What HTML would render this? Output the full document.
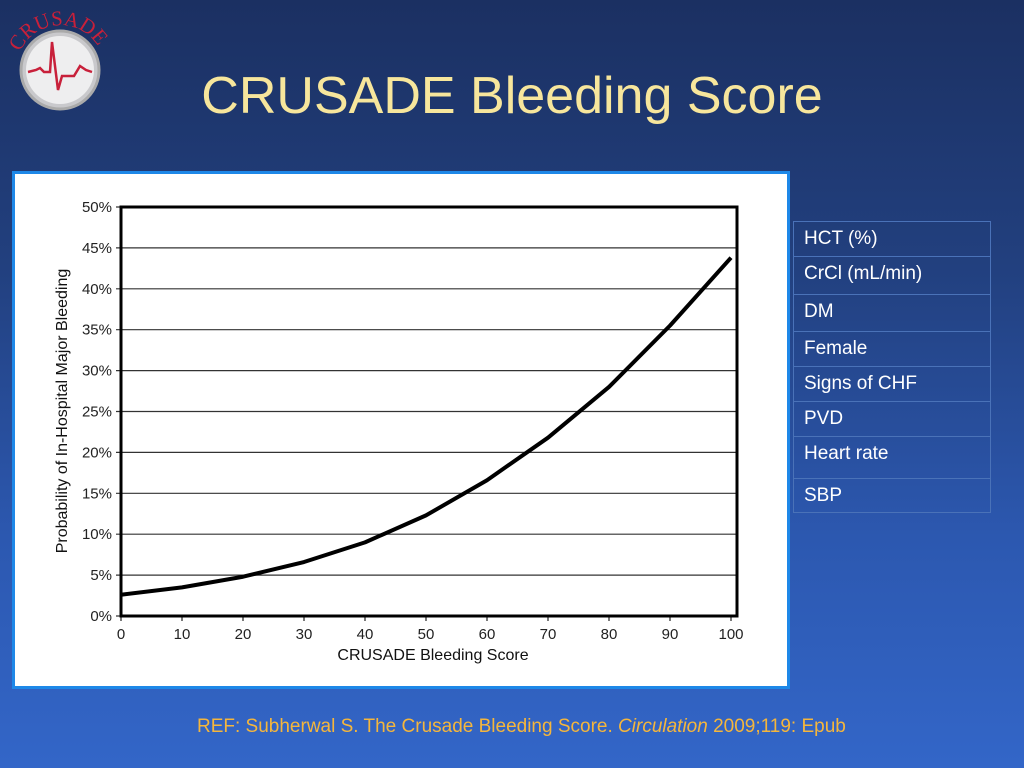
<!DOCTYPE html>
<html><head><meta charset="utf-8"><style>
body{margin:0;width:1024px;height:768px;overflow:hidden;font-family:"Liberation Sans",sans-serif;}
#bg{position:absolute;left:0;top:0;width:1024px;height:768px;background:linear-gradient(#1b3062 0%,#22407f 35%,#2c58b0 70%,#3366c8 100%);}
#title{position:absolute;left:197px;width:630px;top:66px;text-align:center;font-family:"Liberation Sans",sans-serif;font-size:52px;color:#f7e69c;white-space:nowrap;}
#panel{position:absolute;left:12px;top:171px;width:772px;height:512px;background:#fff;border:3px solid #1e88e8;}
table{position:absolute;left:793px;top:221px;border-collapse:collapse;width:198px;}
td{border:1px solid #4a72b8;color:#fff;font-size:19px;padding:6px 0 0 10px;vertical-align:top;box-sizing:border-box;}
#ref{position:absolute;left:197px;width:690px;top:716px;color:#f5b63c;font-size:19px;white-space:nowrap;}
</style></head><body>
<div id="bg"></div>
<svg style="position:absolute;left:0;top:0" width="130" height="120">
<circle cx="60" cy="70" r="39" fill="#c9c9cc" stroke="#aaa" stroke-width="3"/>
<circle cx="60" cy="70" r="34" fill="#eeeeef"/>
<polyline points="28,72 36,70 40,68 44,72 50,72 52,42 58,90 62,76 74,76 80,66 86,70 92,72" fill="none" stroke="#c8203a" stroke-width="2.5"/>
<path id="arc" d="M20,52 A44,44 0 0 1 100,50" fill="none"/>
<text font-family="Liberation Serif,serif" font-size="21" fill="#c8203a"><textPath href="#arc" textLength="96" lengthAdjust="spacingAndGlyphs">CRUSADE</textPath></text>
</svg>
<div id="title">CRUSADE Bleeding Score</div>
<div id="panel"></div>
<svg id="chart" style="position:absolute;left:0;top:0" width="1024" height="768"></svg>
<table>
<tr style="height:35px"><td>HCT (%)</td></tr>
<tr style="height:38px"><td>CrCl (mL/min)</td></tr>
<tr style="height:37px"><td>DM</td></tr>
<tr style="height:35px"><td>Female</td></tr>
<tr style="height:35px"><td>Signs of CHF</td></tr>
<tr style="height:35px"><td>PVD</td></tr>
<tr style="height:42px"><td>Heart rate</td></tr>
<tr style="height:34px"><td>SBP</td></tr>
</table>
<div id="ref">REF: Subherwal S. The Crusade Bleeding Score. <i>Circulation</i> 2009;119: Epub</div>
<script>
const xTicks=[0,10,20,30,40,50,60,70,80,90,100];
const yTicks=[0,5,10,15,20,25,30,35,40,45,50];
const scores=[0,10,20,30,40,50,60,70,80,90,100];
const probs=[2.6,3.5,4.8,6.6,9.0,12.3,16.6,21.8,28.0,35.5,43.8];
const svg=document.getElementById('chart');
const NS='http://www.w3.org/2000/svg';
const X0=121,X1=731,Y0=616,Y1=207;
const sx=v=>X0+(X1-X0)*v/100, sy=v=>Y0-(Y0-Y1)*v/50;
function mk(t,a,txt){const e=document.createElementNS(NS,t);for(const k in a)e.setAttribute(k,a[k]);if(txt!=null)e.textContent=txt;svg.appendChild(e);return e;}
yTicks.forEach(v=>{
 const g=mk('line',{x1:X0-5,x2:737,y1:sy(v),y2:sy(v),stroke:'#333','stroke-width':1.2});
 
 
 const t=mk('text',{x:X0-9,y:sy(v)+5,'text-anchor':'end','font-size':15,fill:'#222'},v+'%');
 
 
});
xTicks.forEach(v=>{
 const l=mk('line',{x1:sx(v),x2:sx(v),y1:Y0,y2:Y0+5,stroke:'#222','stroke-width':1.2});
 
 
 const t=mk('text',{x:sx(v),y:Y0+23,'text-anchor':'middle','font-size':15,fill:'#222'},v);
 
 
});
const box=mk('rect',{x:X0,y:Y1,width:737-X0,height:Y0-Y1,fill:'none',stroke:'#000','stroke-width':3});


let d='';scores.forEach((s,i)=>{d+=(i?'L':'M')+sx(s)+','+sy(probs[i]);});
const p=mk('path',{d:d,fill:'none',stroke:'#000','stroke-width':4,'stroke-linejoin':'round'});


const xt=mk('text',{x:433,y:660,'text-anchor':'middle','font-size':16,fill:'#111'},'CRUSADE Bleeding Score');


const yt=mk('text',{x:0,y:0,transform:'translate(67,411) rotate(-90)','text-anchor':'middle','font-size':16,fill:'#111'},'Probability of In-Hospital Major Bleeding');


</script>
</body></html>
